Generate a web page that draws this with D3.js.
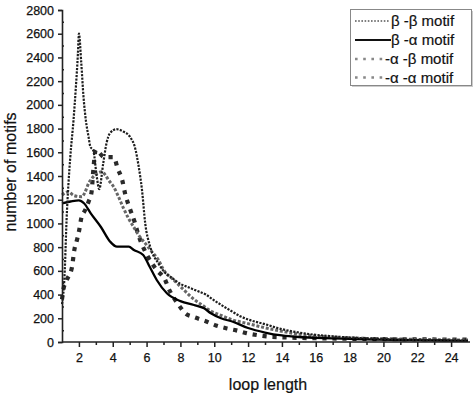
<!DOCTYPE html>
<html><head><meta charset="utf-8">
<script src="https://cdn.jsdelivr.net/npm/d3@7"></script>
<style>
html,body{margin:0;padding:0;background:#fff;}
svg{display:block;font-family:"Liberation Sans",Arial,Helvetica,sans-serif;}
</style></head>
<body>
<svg id="chart" width="474" height="395"></svg>
<script>
// ---- data ----
const xTicks = [2,4,6,8,10,12,14,16,18,20,22,24];
const yTicks = [0,200,400,600,800,1000,1200,1400,1600,1800,2000,2200,2400,2600,2800];
const seriesNames = ["\u03B2 -\u03B2 motif", "\u03B2 -\u03B1 motif", "-\u03B1 -\u03B2 motif", "-\u03B1 -\u03B1 motif"];

// beta-beta (fine dotted)
const bbX = [1.0,1.15,1.27,1.49,1.68,1.82,1.94,2.0,2.14,2.27,2.41,2.57,2.67,2.86,3.05,3.2,3.44,3.63,3.83,4.22,4.62,5.02,5.35,5.51,5.73,5.92,6.2,6.7,7.0,7.5,8.0,8.5,9.0,9.5,10,10.5,11,11.5,12,13,14,15,16,17,18,19,20,21,22,23,24,25];
const bbY = [320,560,1030,1560,1870,2150,2430,2600,2350,2070,1870,1730,1650,1610,1400,1290,1510,1675,1760,1795,1775,1730,1620,1500,1280,1000,810,663,600,540,490,460,430,400,350,305,262,220,190,150,108,80,60,48,38,30,25,20,18,15,12,10];

// beta-alpha (solid)
const baX = [1.0,1.5,2.0,2.3,2.7,3.3,3.85,4.25,4.95,5.25,5.8,6.2,6.6,7.2,8.0,8.8,9.4,9.8,10.4,11.1,12,13,14,15,16,17,18,19,20,21,22,23,24,25];
const baY = [1170,1185,1195,1170,1085,970,846,804,804,776,734,630,523,411,345,312,284,242,200,171,118,80,55,42,35,30,26,22,20,17,15,13,12,10];

// -alpha-beta (grey dense markers)
const abX = [1.0,1.37,1.7,2.18,2.37,2.57,2.77,3.07,3.36,3.56,3.75,4.05,4.34,4.64,4.93,5.23,5.53,5.92,6.32,6.71,7.0,7.6,8.2,8.8,9.3,9.8,10.4,11,12,13,14,15,16,17,18,19,20,21,22,23,24,25];
const abY = [1240,1267,1235,1225,1267,1338,1380,1422,1436,1408,1366,1310,1225,1127,1043,972,902,832,760,690,610,523,440,360,310,262,225,190,155,120,90,65,50,42,35,30,28,25,22,20,18,17];

// -alpha-alpha (dark squares)
const aaX = [1.0,1.08,1.28,1.58,1.73,1.9,2.03,2.13,2.37,2.57,2.75,2.85,3.0,3.5,4.05,4.3,4.55,4.75,5.0,5.3,5.5,6.0,6.6,7.1,7.3,7.9,8.3,8.8,9.3,9.5,10.1,10.7,11.3,11.9,12.5,13.1,14,15,16,18,20,22,25];
const aaY = [360,440,523,624,776,869,953,1037,1113,1183,1267,1450,1620,1560,1560,1460,1370,1240,1130,1010,910,740,607,523,453,312,240,210,185,175,140,116,98,75,59,47,40,35,32,27,24,22,20];

// ---- drawing ----
const svg = d3.select("#chart");
const x = d3.scaleLinear().domain([1,25]).range([62,468]);
const y = d3.scaleLinear().domain([0,2800]).range([342,10]);

const line = d3.line().x(d=>x(d[0])).y(d=>y(d[1])).curve(d3.curveMonotoneX);
const zip = (a,b)=>a.map((v,i)=>[v,b[i]]);

const g = svg.append("g");
g.append("path").datum(zip(aaX,aaY)).attr("d",line)
  .attr("fill","none").attr("stroke","#2a2a2a").attr("stroke-width",4.2).attr("stroke-dasharray","4.2 5.8");
g.append("path").datum(zip(abX,abY)).attr("d",line)
  .attr("fill","none").attr("stroke","#666").attr("stroke-width",3).attr("stroke-dasharray","3 1.8");
g.append("path").datum(zip(baX,baY)).attr("d",line)
  .attr("fill","none").attr("stroke","#000").attr("stroke-width",2.3);
g.append("path").datum(zip(bbX,bbY)).attr("d",line)
  .attr("fill","none").attr("stroke","#1e1e1e").attr("stroke-width",2.2).attr("stroke-dasharray","2.2 1.3");

// axes
const xAxis = d3.axisBottom(x).tickValues(xTicks).tickSize(5).tickPadding(6).tickFormat(d3.format("d"));
const xMinor = d3.axisBottom(x).tickValues(d3.range(3,25,2)).tickSize(3).tickFormat("");
const yAxis = d3.axisLeft(y).tickValues(yTicks).tickSize(4).tickPadding(4).tickFormat(d3.format("d"));
const yMinor = d3.axisRight(y).tickValues(d3.range(100,2800,200)).tickSize(2).tickFormat("");

const gx = svg.append("g").attr("transform","translate(0,342)").call(xAxis);
svg.append("g").attr("transform","translate(0,342)").call(xMinor).select(".domain").remove();
const gy = svg.append("g").attr("transform","translate(62,0)").call(yAxis);
svg.append("g").attr("transform","translate(62,0)").call(yMinor).select(".domain").remove();

[gx,gy].forEach(a=>{
  a.select(".domain").attr("stroke","#222").attr("stroke-width",1.6);
  a.selectAll(".tick text").attr("font-size",12.5).attr("fill","#111")
    .attr("stroke","#111").attr("stroke-width",0.25)
    .attr("font-family","'Liberation Sans',Arial,sans-serif");
});
svg.selectAll(".tick line").attr("stroke","#222").attr("stroke-width",1.5);
gx.select(".domain").attr("d","M62,0H470");

// titles
svg.append("text").attr("x",268).attr("y",390).attr("text-anchor","middle")
  .attr("font-size",16).attr("fill","#111").attr("stroke","#111").attr("stroke-width",0.2).text("loop length");
svg.append("text").attr("transform","translate(16,172) rotate(-90)").attr("text-anchor","middle")
  .attr("font-size",16).attr("fill","#111").attr("stroke","#111").attr("stroke-width",0.2).text("number of motifs");

// legend
const lg = svg.append("g");
lg.append("rect").attr("x",352).attr("y",11).attr("width",121).attr("height",76).attr("fill","#ccc");
lg.append("rect").attr("x",350.5).attr("y",9.5).attr("width",121).attr("height",76)
  .attr("fill","#fff").attr("stroke","#888").attr("stroke-width",1);
const rows = [26,45,64,82.5];
const styles = [
  {stroke:"#555",w:1.6,dash:"1.6 1.6",x1:355,x2:390},
  {stroke:"#111",w:2.2,dash:null,x1:355,x2:391},
  {stroke:"#888",w:2.6,dash:"2.6 5.6",x1:355,x2:384},
  {stroke:"#888",w:2.6,dash:"2.6 5.6",x1:355,x2:384}
];
seriesNames.forEach((name,i)=>{
  const s = styles[i];
  const ly = rows[i]-5;
  lg.append("line").attr("x1",s.x1).attr("x2",s.x2).attr("y1",ly).attr("y2",ly)
    .attr("stroke",s.stroke).attr("stroke-width",s.w).attr("stroke-dasharray",s.dash);
  lg.append("text").attr("x", i<2 ? 391 : 385).attr("y",rows[i])
    .attr("font-size",15).attr("fill","#111").attr("stroke","#111").attr("stroke-width",0.2).text(name);
});
</script>
</body></html>
